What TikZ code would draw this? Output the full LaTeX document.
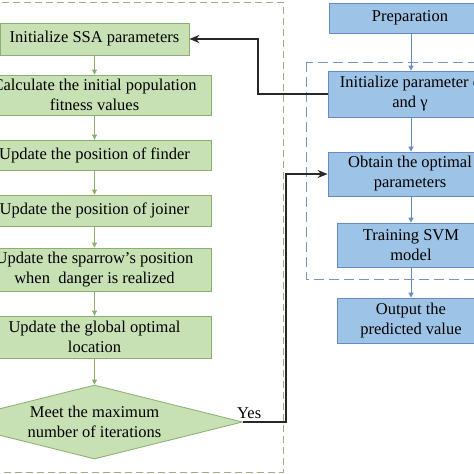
\documentclass[tikz,border=0pt]{standalone}
\usepackage{fontspec}
\setmainfont{Liberation Serif}
\usetikzlibrary{shapes.geometric,arrows.meta}
\definecolor{gfill}{RGB}{199,224,180}
\definecolor{gline}{RGB}{140,175,110}
\definecolor{bfill}{RGB}{157,195,230}
\definecolor{bline}{RGB}{100,140,190}
\definecolor{gdash}{RGB}{160,172,140}
\definecolor{bdash}{RGB}{120,150,185}
\definecolor{conn}{RGB}{40,40,40}
\tikzset{
  gbox/.style={draw=gline, line width=0.8pt, fill=gfill, inner sep=0pt, align=center,
    minimum width=233pt, font=\fontsize{16.5}{20}\selectfont},
  bbox/.style={draw=bline, line width=0.8pt, fill=bfill, inner sep=0pt, align=center,
    font=\fontsize{16.5}{20}\selectfont},
  garrow/.style={draw=gline, line width=0.8pt, -{Triangle[length=5pt,width=5pt]}},
  barrow/.style={draw=bline, line width=0.8pt, -{Triangle[length=5pt,width=5pt]}},
  karrow/.style={draw=conn, line width=1.4pt, -{Stealth[length=10pt,width=8pt]}},
}
\begin{document}
\begin{tikzpicture}[x=1pt,y=-1pt]
\useasboundingbox (0,0) rectangle (474,474);
\clip (0,0) rectangle (474,474);
\fill[white] (0,0) rectangle (474,474);
% dashed group frames
\draw[gdash, line width=1pt, dash pattern=on 7pt off 4pt] (-10,2) rectangle (283,472);
\draw[bdash, line width=1pt, dash pattern=on 10pt off 5pt] (306,62) rectangle (490,279);
% left column
\node[gbox, minimum width=189pt, minimum height=32pt] (ssa) at (94.5,39) {Initialize SSA parameters};
\node[gbox, minimum height=40pt] (calc) at (94.5,95) {Calculate the initial population\\fitness values};
\node[gbox, minimum height=30pt] (fin) at (94.5,155) {Update the position of finder};
\node[gbox, minimum height=31pt] (join) at (94.5,210.5) {Update the position of joiner};
\node[gbox, minimum height=43pt] (spar) at (94.5,269.5) {Update the sparrow’s position\\when\ \ danger is realized};
\node[gbox, minimum height=42pt] (glob) at (94.5,337) {Update the global optimal\\location};
\node[draw=gline, line width=0.8pt, fill=gfill, diamond, aspect=4, inner sep=0pt,
  minimum width=296pt, minimum height=74pt, align=center,
  font=\fontsize{16.5}{20}\selectfont] (dm) at (94.5,422) {Meet the maximum\\number of iterations};
\draw[garrow] (ssa) -- (calc);
\draw[garrow] (calc) -- (fin);
\draw[garrow] (fin) -- (join);
\draw[garrow] (join) -- (spar);
\draw[garrow] (spar) -- (glob);
\draw[garrow] (glob) -- (dm);
% right column
\node[bbox, minimum width=162pt, minimum height=30pt] (prep) at (410,18) {Preparation};
\node[bbox, minimum width=164pt, minimum height=46pt] (ip) at (410,94) {Initialize parameter c\\and γ};
\node[bbox, minimum width=164pt, minimum height=44pt] (ob) at (410,174) {Obtain the optimal\\parameters};
\node[bbox, minimum width=148pt, minimum height=44pt] (tr) at (411,245) {Training SVM\\model};
\node[bbox, minimum width=148pt, minimum height=45pt] (out) at (411,320.5) {Output the\\predicted value};
\draw[barrow] (prep.south -| tr.north) -- (ip.north -| tr.north);
\draw[barrow] (ip.south -| tr.north) -- (ob.north -| tr.north);
\draw[barrow] (ob.south -| tr.north) -- (tr.north);
\draw[barrow] (tr) -- (out);
% black connectors
\coordinate (k1) at (258,94);
\coordinate (k2) at (286,422);
\draw[karrow] (ip.west) -- (k1) |- (ssa.east);
\draw[karrow] (dm.east) -- (k2) |- (ob.west);
\node[font=\fontsize{16.5}{20}\selectfont, anchor=south west, inner sep=0pt] (yes) at (237,419) {Yes};
\end{tikzpicture}
\end{document}
